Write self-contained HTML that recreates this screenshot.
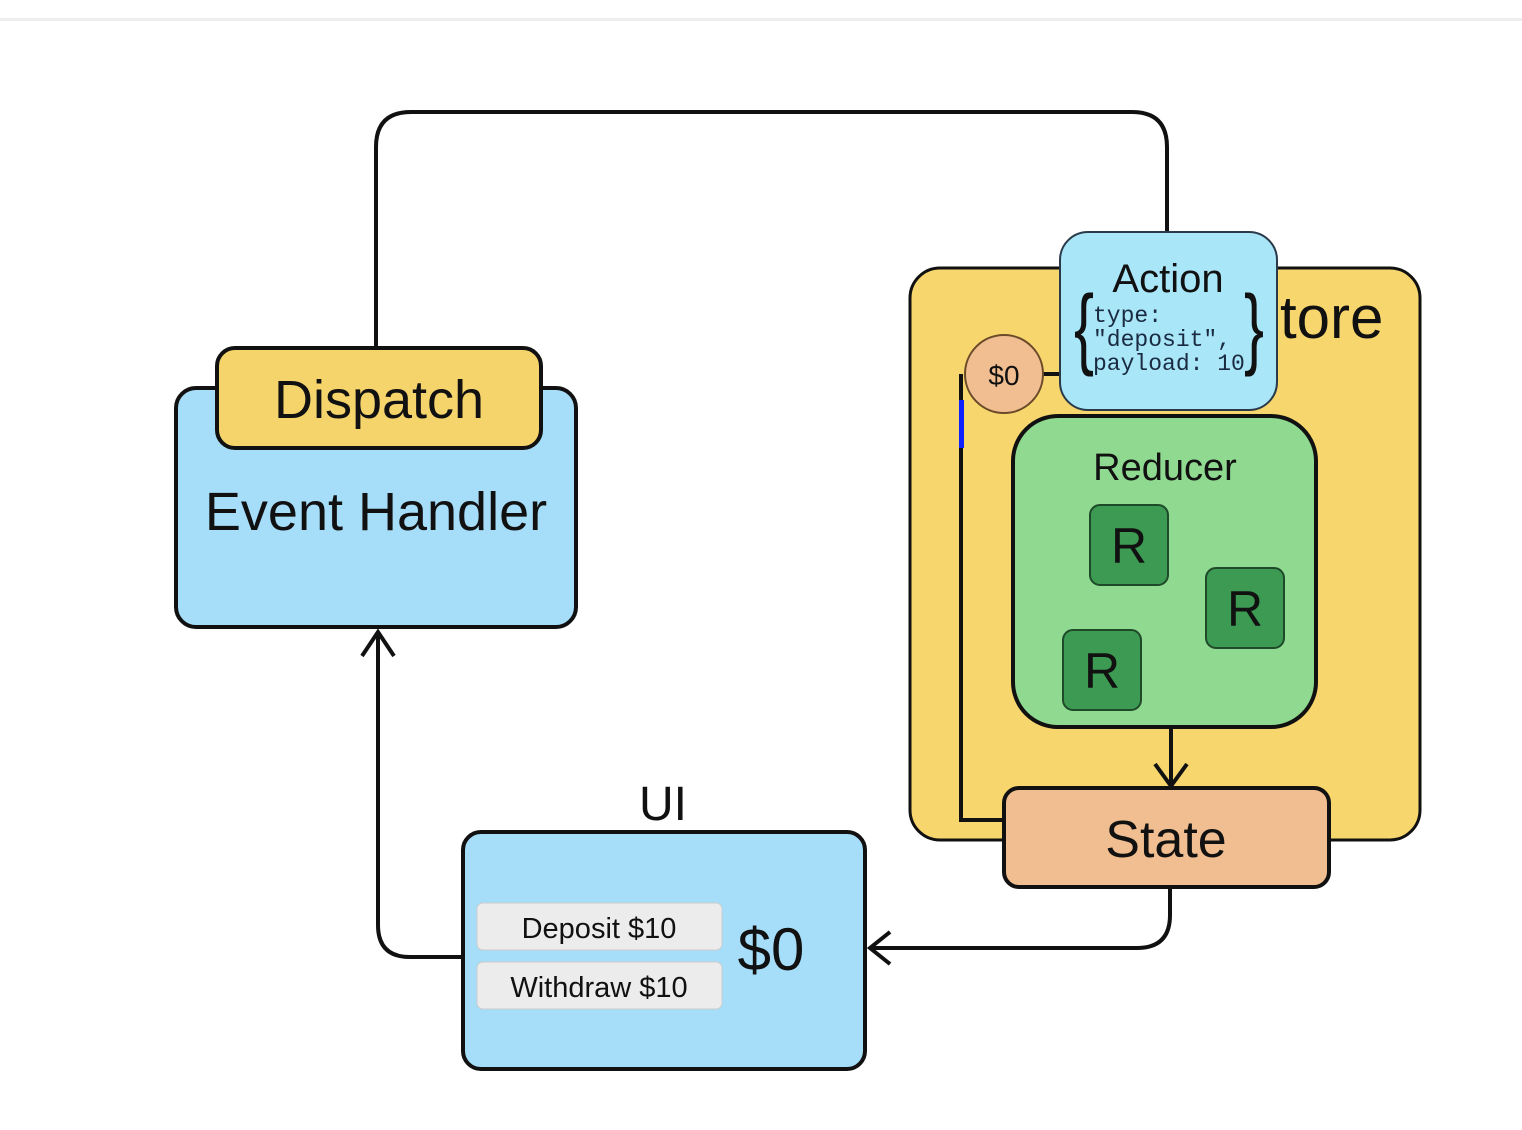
<!DOCTYPE html>
<html><head><meta charset="utf-8"><style>
html,body{margin:0;padding:0;background:#fff;}
svg{display:block;}
text{font-family:"Liberation Sans","DejaVu Sans",sans-serif;fill:#111;}
.mono{font-family:"Liberation Mono","DejaVu Sans Mono",monospace;fill:#1a2a40;}
</style></head><body>
<svg width="1522" height="1130" viewBox="0 0 1522 1130" xmlns="http://www.w3.org/2000/svg">
<rect x="0" y="18" width="1522" height="3" fill="#eeeeee"/>
<g fill="none" stroke="#111" stroke-width="4">
<path d="M376 350 V147 Q376 112 411 112 H1132 Q1167 112 1167 147 V234"/>
<path d="M1170 887 V915 Q1170 948 1137 948 H870"/>
<path d="M890 932 L870 948 L890 964"/>
<path d="M463 957 H410 Q378 957 378 925 V632"/>
<path d="M362 656 L378 632 L394 656"/>
</g>
<rect x="910" y="268" width="510" height="572" rx="30" fill="#f7d66d" stroke="#111" stroke-width="3"/>
<text x="1280" y="338" font-size="60">tore</text>
<path d="M961 374 V820 H1005" fill="none" stroke="#111" stroke-width="4"/>
<rect x="959" y="400" width="5" height="48" fill="#1020ff"/>
<line x1="1040" y1="374" x2="1062" y2="374" stroke="#111" stroke-width="4"/>
<circle cx="1004" cy="374" r="39" fill="#f0be90" stroke="#6b4a2a" stroke-width="2"/>
<text x="1004" y="385" font-size="28" text-anchor="middle">$0</text>
<rect x="1060" y="232" width="217" height="178" rx="28" fill="#a8e6f8" stroke="#2a3a4a" stroke-width="2"/>
<text x="1168" y="292" font-size="40" text-anchor="middle" fill="#0a1a30">Action</text>
<text x="1074" y="0" font-size="60" fill="#1a2a40" transform="translate(0,358) scale(1,1.5)">{</text>
<text x="1244" y="0" font-size="60" fill="#1a2a40" transform="translate(0,358) scale(1,1.5)">}</text>
<text class="mono" x="1093" y="322" font-size="23">type:</text>
<text class="mono" x="1093" y="346" font-size="23">"deposit",</text>
<text class="mono" x="1093" y="370" font-size="23">payload: 10</text>
<rect x="1013" y="416" width="303" height="311" rx="45" fill="#8fda90" stroke="#111" stroke-width="4"/>
<text x="1165" y="480" font-size="38" text-anchor="middle">Reducer</text>
<g fill="#3c9a52" stroke="#1f4a2a" stroke-width="2">
<rect x="1090" y="505" width="78" height="80" rx="10"/>
<rect x="1206" y="568" width="78" height="80" rx="10"/>
<rect x="1063" y="630" width="78" height="80" rx="10"/>
</g>
<g font-size="50" text-anchor="middle"><text x="1129" y="563">R</text><text x="1245" y="626">R</text><text x="1102" y="688">R</text></g>
<g fill="none" stroke="#111" stroke-width="4"><path d="M1171 727 V786"/><path d="M1155 764 L1171 786 L1187 764"/></g>
<rect x="1004" y="788" width="325" height="99" rx="15" fill="#f0be90" stroke="#111" stroke-width="4"/>
<text x="1166" y="857" font-size="52" text-anchor="middle">State</text>
<text x="663" y="820" font-size="48" text-anchor="middle">UI</text>
<rect x="463" y="832" width="402" height="237" rx="18" fill="#a6ddf8" stroke="#111" stroke-width="4"/>
<rect x="477" y="903" width="245" height="47" rx="6" fill="#ececec" stroke="#ccc" stroke-width="1"/>
<rect x="477" y="962" width="245" height="47" rx="6" fill="#ececec" stroke="#ccc" stroke-width="1"/>
<text x="599" y="938" font-size="29" text-anchor="middle">Deposit $10</text>
<text x="599" y="997" font-size="29" text-anchor="middle">Withdraw $10</text>
<text x="771" y="970" font-size="60" text-anchor="middle">$0</text>
<rect x="176" y="388" width="400" height="239" rx="20" fill="#a6ddf8" stroke="#111" stroke-width="4"/>
<rect x="217" y="348" width="324" height="100" rx="18" fill="#f6d46c" stroke="#111" stroke-width="4"/>
<text x="379" y="418" font-size="54" text-anchor="middle">Dispatch</text>
<text x="376" y="530" font-size="54" text-anchor="middle">Event Handler</text>
</svg>
</body></html>
